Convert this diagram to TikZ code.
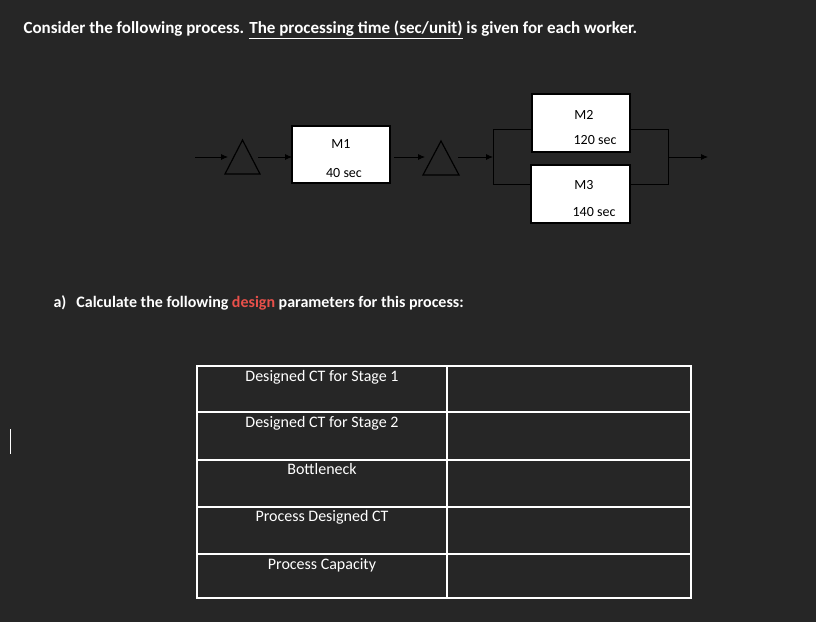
\documentclass[tikz,border=0pt]{standalone}
\usepackage{fontspec}
\setmainfont{Carlito}
\usetikzlibrary{arrows.meta}
\definecolor{bg}{HTML}{262626}
\definecolor{redt}{HTML}{E8504A}
\begin{document}
\begin{tikzpicture}[x=1pt,y=-1pt,
  flow/.style={black,line width=0.8pt},
  arr/.style={flow,-{Latex[length=7pt,width=6pt]}},
  box/.style={draw=black,line width=1.2pt,fill=white},
  tri/.style={draw=black,line width=1.2pt},
  tline/.style={white,line width=1.6pt},
  ttext/.style={white,font=\fontsize{16}{18}\selectfont,anchor=north},
  mtext/.style={black,font=\fontsize{14}{16}\selectfont}]
\fill[bg] (0,0) rectangle (816,622);
\useasboundingbox (0,0) rectangle (816,622);
\node[white,anchor=west,font=\fontsize{17}{20}\selectfont\bfseries] (title) at (20,30) {Consider the following process. \underline{The processing time (sec/unit)} is given for each worker.};
% flow
\coordinate (in) at (195,157);
\draw[tri] (225,174) -- (242.5,140) -- (260,174) -- cycle;
\coordinate (t1l) at (228,157); \coordinate (t1r) at (258,157);
\draw[arr] (in) -- (t1l);
\draw[box] (292,126) rectangle (390,183);
\node[mtext] (m1) at (341,144) {M1};
\begin{scope}
\clip (293,127) rectangle (389,181);
\node[mtext] (m1t) at (344,173) {40 sec};
\end{scope}
\coordinate (m1l) at (292,157); \coordinate (m1r) at (394,157);
\draw[arr] (t1r) -- (m1l);
\draw[tri] (423,175) -- (441,141) -- (459,175) -- cycle;
\coordinate (t2l) at (425,157); \coordinate (t2r) at (458,157);
\draw[arr] (m1r) -- (t2l);
\coordinate (split) at (493,157);
\draw[arr] (t2r) -- (split);
\draw[box] (532,94) rectangle (630,152);
\node[mtext] (m2) at (584,115) {M2};
\node[mtext] (m2t) at (595,140) {120 sec};
\draw[box] (531,165) rectangle (630,223);
\node[mtext] (m3) at (584,185) {M3};
\node[mtext] (m3t) at (594,212) {140 sec};
\draw[flow] (532,129) -- (493,129) -- (493,184) -- (531,184);
\draw[flow] (630,129) -- (668,129) -- (668,184) -- (630,184);
\coordinate (join) at (668,157); \coordinate (out) at (708,157);
\draw[arr] (join) -- (out);
% question
\node[white,anchor=west,font=\fontsize{16}{18}\selectfont\bfseries] (q) at (50,303) {a)\hspace{10pt}Calculate the following \textcolor{redt}{design} parameters for this process:};
% table
\draw[tline] (197,366) rectangle (691,598);
\draw[tline] (447,366) -- (447,598);
\foreach \y in {412,460,507,554} \draw[tline] (197,\y) -- (691,\y);
\node[ttext] (r1) at (322,367) {Designed CT for Stage 1};
\node[ttext] (r2) at (322,413) {Designed CT for Stage 2};
\node[ttext] (r3) at (322,460) {Bottleneck};
\node[ttext] (r4) at (322,507) {Process Designed CT};
\node[ttext] (r5) at (322,555) {Process Capacity};
% cursor
\draw[white,line width=1pt] (10,429) -- (10,454);
\end{tikzpicture}
\end{document}
